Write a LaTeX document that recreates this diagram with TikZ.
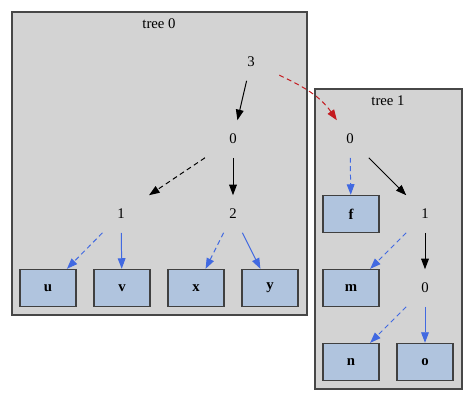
\documentclass[tikz,border=0pt]{standalone}
\usepackage{fontspec}
\setmainfont{Liberation Serif}
\usetikzlibrary{arrows.meta,positioning}
\definecolor{clusterGray}{HTML}{D3D3D3}
\definecolor{leafBlue}{HTML}{B0C4DE}
\definecolor{edgeBlue}{HTML}{4169E1}
\definecolor{edgeRed}{HTML}{C41A1F}
\colorlet{frameGray}{black!72}
\tikzset{
  >={Triangle[length=7.5pt,width=5.5pt]},
  font=\fontsize{10.5}{12}\selectfont,
  % clusters and nodes
  cluster/.style={
    draw=frameGray,
    fill=clusterGray,
    line width=0.8pt,
    inner sep=0pt
  },
  treenode/.style={
    minimum width=1.4cm,
    minimum height=0.925cm,
    inner sep=0pt
  },
  leaf/.style={
    treenode,
    draw=black!75,
    fill=leafBlue,
    line width=1pt,
    font=\fontsize{10.5}{12}\selectfont\bfseries
  },
  % edges
  solidedge/.style={->, line width=0.7pt, draw=black},
  dashedge/.style={solidedge, dash pattern=on 3.5pt off 2.5pt},
  leafedge/.style={->, line width=0.7pt, draw=edgeBlue},
  dashleaf/.style={leafedge, dash pattern=on 3.5pt off 2.5pt},
  crossedge/.style={->, line width=0.7pt, draw=edgeRed,
    dash pattern=on 3.5pt off 2.5pt}
}
\begin{document}
\begin{tikzpicture}[x=0.025cm,y=-0.025cm]
\useasboundingbox[fill=white] (0,0) rectangle (474,402);

% clusters
\node[cluster, minimum width=7.375cm, minimum height=7.575cm] (tree0) at (159.5,163.5) {};
\node[cluster, minimum width=3.675cm, minimum height=7.5cm] (tree1) at (388.5,239) {};
\node (title0) at (159,24) {tree 0};
\node (title1) at (388,101) {tree 1};

% tree 0
\node[treenode] (a3) at (251,62) {3};
\node[treenode] (a0) at (233,139) {0};
\node[treenode] (a1) at (121,214) {1};
\node[treenode] (a2) at (233,214) {2};
\node[leaf] (u) at (48,288) {u};
\node[leaf] (v) at (122,288) {v};
\node[leaf] (x) at (196,288) {x};
\node[leaf] (y) at (270,288) {y};

% tree 1
\node[treenode] (b0) at (350,139) {0};
\node[leaf] (f) at (351,214) {f};
\node[treenode] (b1) at (425,214) {1};
\node[leaf] (m) at (351,288) {m};
\node[treenode] (b0b) at (425,288) {0};
\node[leaf] (n) at (351,362) {n};
\node[leaf] (o) at (425,362) {o};

\draw[solidedge] (a3) -- (a0);
\draw[dashedge] (a0) -- (a1);
\draw[solidedge] (a0) -- (a2);
\draw[dashleaf] (a1) -- (u);
\draw[leafedge] (a1) -- (v);
\draw[dashleaf] (a2) -- (x);
\draw[leafedge] (a2) -- (y);

\draw[dashleaf] (b0) -- (f);
\draw[solidedge] (b0) -- (b1);
\draw[dashleaf] (b1) -- (m);
\draw[solidedge] (b1) -- (b0b);
\draw[dashleaf] (b0b) -- (n);
\draw[leafedge] (b0b) -- (o);

\draw[crossedge] (a3) to[out=-25, in=125] (b0);

\end{tikzpicture}
\end{document}
